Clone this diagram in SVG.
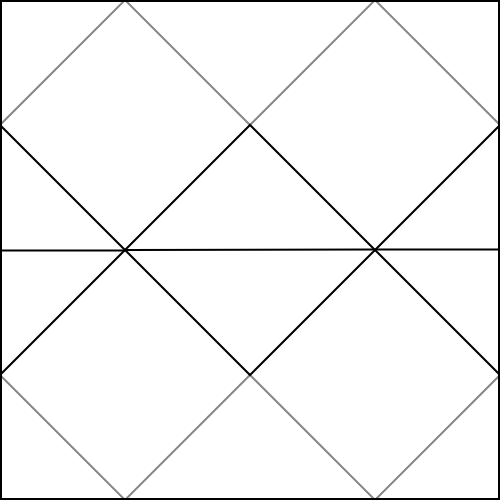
<svg xmlns="http://www.w3.org/2000/svg" width="500" height="500" viewBox="0 0 500 500">
<style>
.g{stroke:#888888;stroke-width:2;fill:none}
.k{stroke:#000000;stroke-width:2;fill:none}
</style>
<rect x="0" y="0" width="500" height="500" fill="#ffffff"/>
<g id="connectors">
<polyline class="g" points="0,125 125,0 250,125 375,0 500,125"/>
<polyline class="g" points="0,375 125,500 250,375 375,500 500,375"/>
<polyline class="k" points="0,125 125,250 250,125 375,250 500,125"/>
<polyline class="k" points="0,375 125,250 250,375 375,250 500,375"/>
<line class="k" x1="0" y1="250.5" x2="125" y2="250.5"/>
<line class="k" x1="125" y1="250" x2="375" y2="249.5"/>
<line class="k" x1="375" y1="249.5" x2="500" y2="249.5"/>
</g>
<rect x="1" y="1" width="498" height="498" fill="none" stroke="#000000" stroke-width="2"/>
</svg>
